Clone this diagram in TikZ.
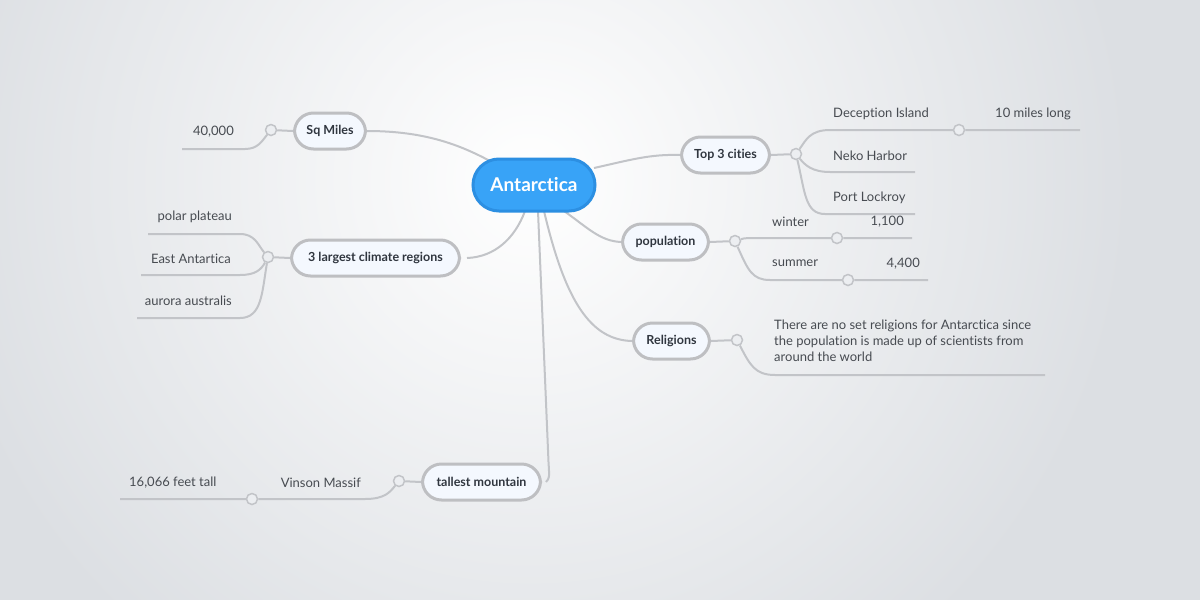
\documentclass[tikz,border=0pt]{standalone}
\usepackage{fontspec}
\setmainfont{Lato}[Ligatures={NoCommon,NoRare}]
\usetikzlibrary{calc}
\definecolor{bgc}{HTML}{DCDFE3}
\definecolor{linec}{HTML}{C2C4C8}
\definecolor{txt}{HTML}{474B51}
\definecolor{btxt}{HTML}{30363F}
\definecolor{nborder}{HTML}{BEBFC2}
\definecolor{nfill}{HTML}{F4F8FE}
\definecolor{antfill}{HTML}{38A3F7}
\definecolor{antborder}{HTML}{2C8FE2}
\definecolor{dotfill}{HTML}{ECEEF1}
\pgfdeclarelayer{bglayer}
\pgfdeclarelayer{edgelayer}
\pgfsetlayers{bglayer,edgelayer,main}
\tikzset{
  topic/.style={draw=nborder, line width=3pt, fill=nfill, rounded corners=19pt,
    font=\fontsize{12.5}{15}\selectfont\bfseries, text=btxt, minimum height=36pt, inner sep=0pt},
  central/.style={draw=antborder, line width=3pt, fill=antfill, rounded corners=26pt,
    font=\fontsize{19}{22}\selectfont\bfseries, text=white, minimum width=122pt, minimum height=52pt, inner sep=0pt},
  dot/.style={circle, draw=linec, line width=1.5pt, fill=dotfill, minimum size=11pt, inner sep=0pt},
  conn/.style={draw=linec, line width=2pt},
  lbl/.style={font=\fontsize{13}{16}\selectfont, text=txt, inner sep=0pt},
}
\begin{document}
\begin{tikzpicture}[x=1pt,y=-1pt]
\useasboundingbox (0,0) rectangle (1200,600);
\begin{pgfonlayer}{bglayer}
  \clip (0,0) rectangle (1200,600);
  \fill[bgc] (0,0) rectangle (1200,600);
  \shade[inner color=white, outer color=bgc] (530,180) circle (600);
\end{pgfonlayer}

% central and topics
\node[central] (ant) at (534,185) {Antarctica};
\node[topic, minimum width=71pt] (sq) at (330,131) {Sq Miles};
\node[topic, minimum width=168pt] (clim) at (375.5,258) {3 largest climate regions};
\node[topic, minimum width=88pt] (city) at (725.5,155) {Top 3 cities};
\node[topic, minimum width=86pt] (pop) at (665.5,242) {population};
\node[topic, minimum width=76pt] (rel) at (671.5,341) {Religions};
\node[topic, minimum width=118pt] (tall) at (481.5,482) {tallest mountain};

% junction dots
\node[dot] (sqd) at (271,130) {};
\node[dot] (climd) at (268,257) {};
\node[dot] (cityd) at (796,154) {};
\node[dot] (popd) at (735,241) {};
\node[dot] (reld) at (737,340) {};
\node[dot] (talld) at (399,481) {};
\node[dot] (decd) at (959,130) {};
\node[dot] (wind) at (837,238) {};
\node[dot] (sumd) at (848,280) {};
\node[dot] (vind) at (252,499) {};

% free ends
\coordinate (sqe) at (182,149);
\coordinate (pole) at (148,234);
\coordinate (easte) at (141,275);
\coordinate (aure) at (137,318);
\coordinate (dece) at (1080,130);
\coordinate (nekoe) at (915,172);
\coordinate (porte) at (915,214);
\coordinate (wine) at (912,238);
\coordinate (sume) at (928,280);
\coordinate (rele) at (1045,375);
\coordinate (vine) at (120,499);

\begin{pgfonlayer}{edgelayer}
  % main branches
  \draw[conn] (sq.east) .. controls (425,131) and (460,145) .. ([shift={(-44,-24)}]ant.center);
  \draw[conn] ([xshift=6pt]clim.east) .. controls (495,257) and (515,238) .. ([shift={(-9,26)}]ant.center);
  \draw[conn] ([shift={(60,-17)}]ant.center) .. controls (630,160) and (650,154) .. (city.west);
  \draw[conn] ([shift={(30,26)}]ant.center) .. controls (588,228) and (600,241) .. (pop.west);
  \draw[conn] ([shift={(10,26)}]ant.center) .. controls (565,300) and (590,340) .. (rel.west);
  \draw[conn] ([shift={(4,26)}]ant.center) -- (548.5,462) .. controls (549.5,478) .. ([xshift=4pt]tall.east);
  % Sq Miles
  \draw[conn] (sq.west) -- (sqd);
  \draw[conn] (sqd) .. controls (262,141) and (258,149) .. (245,149) -- (sqe);
  % climate
  \draw[conn] (clim.west) -- (climd);
  \draw[conn] (climd) .. controls (258,245) and (255,234) .. (240,234) -- (pole);
  \draw[conn] (climd) .. controls (261,270) and (255,275) .. (240,275) -- (easte);
  \draw[conn] (climd) .. controls (262,292) and (262,318) .. (240,318) -- (aure);
  % cities
  \draw[conn] (city.east) -- (cityd);
  \draw[conn] (cityd) .. controls (806,140) and (810,130) .. (830,130) -- (decd) -- (dece);
  \draw[conn] (cityd) .. controls (805,165) and (812,172) .. (830,172) -- (nekoe);
  \draw[conn] (cityd) .. controls (805,192) and (805,214) .. (825,214) -- (porte);
  % population
  \draw[conn] (pop.east) -- (popd);
  \draw[conn] (popd) .. controls (745,238) .. (765,238) -- (wind) -- (wine);
  \draw[conn] (popd) .. controls (748,270) and (752,280) .. (770,280) -- (sumd) -- (sume);
  % religions
  \draw[conn] (rel.east) -- (reld);
  \draw[conn] (reld) .. controls (750,365) and (755,375) .. (775,375) -- (rele);
  % tallest
  \draw[conn] (tall.west) -- (talld);
  \draw[conn] (talld) .. controls (390,492) and (385,499) .. (365,499) -- (vind) -- (vine);
\end{pgfonlayer}

% labels
\node[lbl, anchor=east] (l40) at (234,131.5) {40,000};
\node[lbl, anchor=east] (lpol) at (232,216.5) {polar plateau};
\node[lbl, anchor=east] (least) at (231,258.5) {East Antartica};
\node[lbl, anchor=east] (laur) at (232,300.5) {aurora australis};
\node[lbl, anchor=west] (ldec) at (833,113.5) {Deception Island};
\node[lbl, anchor=east] (lten) at (1071,113.5) {10 miles long};
\node[lbl, anchor=west] (lneko) at (833,155.5) {Neko Harbor};
\node[lbl, anchor=west] (lport) at (833,197.5) {Port Lockroy};
\node[lbl, anchor=west] (lwin) at (772,221.5) {winter};
\node[lbl, anchor=east] (l1100) at (904,221.5) {1,100};
\node[lbl, anchor=west] (lsum) at (772,263.5) {summer};
\node[lbl, anchor=east] (l4400) at (920,263.5) {4,400};
\node[lbl, anchor=west, align=left] (lrel) at (774,341) {There are no set religions for Antarctica since\\the population is made up of scientists from\\around the world};
\node[lbl, anchor=east] (lvin) at (361,482.5) {Vinson Massif};
\node[lbl, anchor=west] (lft) at (129,482.5) {16,066 feet tall};
\end{tikzpicture}
\end{document}
